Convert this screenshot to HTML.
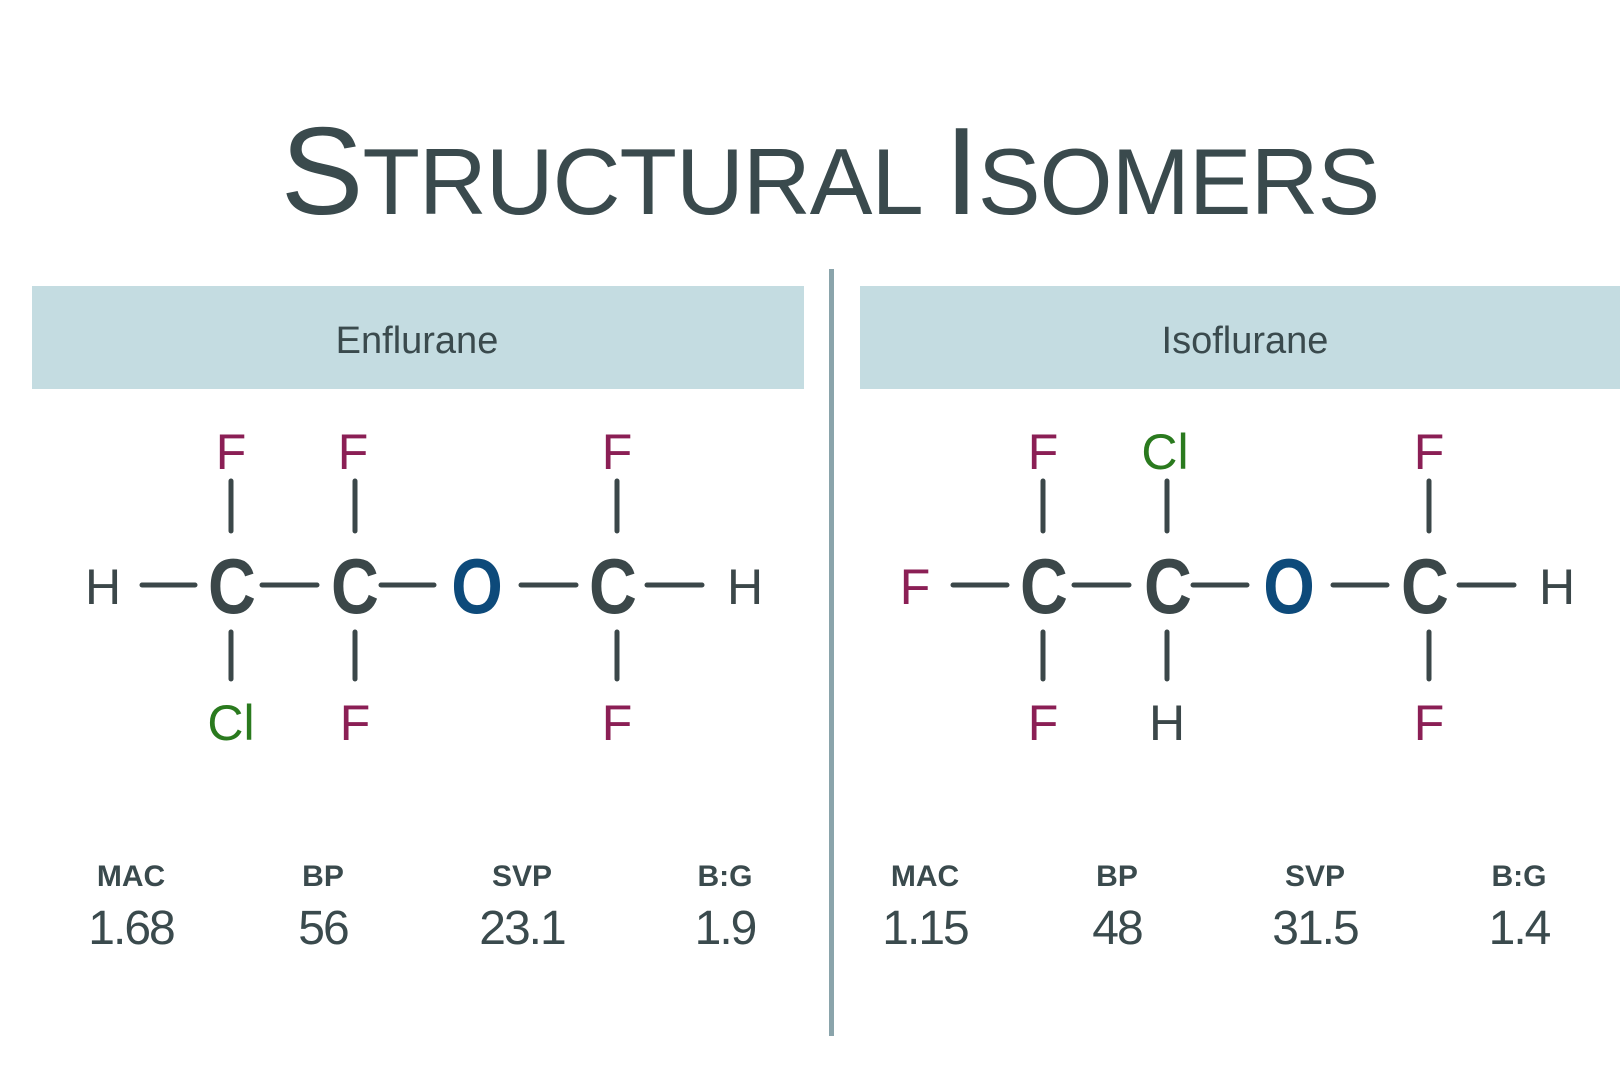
<!DOCTYPE html>
<html><head><meta charset="utf-8"><style>
html,body{margin:0;padding:0;background:#fff;width:1620px;height:1080px;overflow:hidden}
svg{display:block}
text{font-family:"Liberation Sans",sans-serif}
</style></head><body>
<svg width="1620" height="1080" viewBox="0 0 1620 1080">
<text x="830" y="214" text-anchor="middle" fill="#3a4a4d" font-size="94" letter-spacing="-1"><tspan font-size="124">S</tspan>TRUCTURAL <tspan font-size="124">I</tspan>SOMERS</text>
<rect x="32" y="286" width="772" height="103" fill="#c4dce1"/>
<rect x="860" y="286" width="760" height="103" fill="#c4dce1"/>
<rect x="829" y="269" width="5" height="767" fill="#8aa4ab"/>
<text x="417" y="353" text-anchor="middle" fill="#3a4a4d" font-size="38">Enflurane</text>
<text x="1245" y="353" text-anchor="middle" fill="#3a4a4d" font-size="38">Isoflurane</text>
<g stroke="#3b4749" stroke-width="5" stroke-linecap="round">
<line x1="142" y1="585" x2="195" y2="585"/><line x1="262" y1="585" x2="317" y2="585"/><line x1="381" y1="585" x2="434" y2="585"/><line x1="521" y1="585" x2="576" y2="585"/><line x1="647" y1="585" x2="702" y2="585"/>
<line x1="231" y1="481" x2="231" y2="531"/><line x1="355" y1="481" x2="355" y2="531"/><line x1="617" y1="481" x2="617" y2="531"/>
<line x1="231" y1="632" x2="231" y2="679"/><line x1="355" y1="632" x2="355" y2="679"/><line x1="617" y1="632" x2="617" y2="679"/>
<line x1="953" y1="585" x2="1007" y2="585"/><line x1="1074" y1="585" x2="1129" y2="585"/><line x1="1193" y1="585" x2="1247" y2="585"/><line x1="1333" y1="585" x2="1387" y2="585"/><line x1="1459" y1="585" x2="1514" y2="585"/>
<line x1="1043" y1="481" x2="1043" y2="531"/><line x1="1167" y1="481" x2="1167" y2="531"/><line x1="1429" y1="481" x2="1429" y2="531"/>
<line x1="1043" y1="632" x2="1043" y2="679"/><line x1="1167" y1="632" x2="1167" y2="679"/><line x1="1429" y1="632" x2="1429" y2="679"/>
</g>
<g font-size="78" font-weight="bold" text-anchor="middle">
<text transform="translate(232,613) scale(0.85,1)" fill="#3b4749">C</text><text transform="translate(355,613) scale(0.85,1)" fill="#3b4749">C</text><text transform="translate(477,613) scale(0.85,1)" fill="#0d4a7a">O</text><text transform="translate(613,613) scale(0.85,1)" fill="#3b4749">C</text>
<text transform="translate(1044,613) scale(0.85,1)" fill="#3b4749">C</text><text transform="translate(1168,613) scale(0.85,1)" fill="#3b4749">C</text><text transform="translate(1289,613) scale(0.85,1)" fill="#0d4a7a">O</text><text transform="translate(1425,613) scale(0.85,1)" fill="#3b4749">C</text>
</g>
<g font-size="50" text-anchor="middle">
<text x="103" y="604" fill="#3b4749">H</text><text x="745" y="604" fill="#3b4749">H</text>
<text x="231" y="469" fill="#8b1f55">F</text><text x="353" y="469" fill="#8b1f55">F</text><text x="617" y="469" fill="#8b1f55">F</text>
<text x="231" y="740" fill="#2a7a1e">Cl</text><text x="355" y="740" fill="#8b1f55">F</text><text x="617" y="740" fill="#8b1f55">F</text>
<text x="915" y="604" fill="#8b1f55">F</text><text x="1557" y="604" fill="#3b4749">H</text>
<text x="1043" y="469" fill="#8b1f55">F</text><text x="1165" y="469" fill="#2a7a1e">Cl</text><text x="1429" y="469" fill="#8b1f55">F</text>
<text x="1043" y="740" fill="#8b1f55">F</text><text x="1167" y="740" fill="#3b4749">H</text><text x="1429" y="740" fill="#8b1f55">F</text>
</g>
<g font-size="30" font-weight="bold" text-anchor="middle" fill="#3a4a4d">
<text x="131" y="886">MAC</text><text x="323" y="886">BP</text><text x="522" y="886">SVP</text><text x="725" y="886">B:G</text>
<text x="925" y="886">MAC</text><text x="1117" y="886">BP</text><text x="1315" y="886">SVP</text><text x="1519" y="886">B:G</text>
</g>
<g font-size="48" text-anchor="middle" fill="#3a4a4d" letter-spacing="-2">
<text x="131" y="944">1.68</text><text x="323" y="944">56</text><text x="522" y="944">23.1</text><text x="725" y="944">1.9</text>
<text x="925" y="944">1.15</text><text x="1117" y="944">48</text><text x="1315" y="944">31.5</text><text x="1519" y="944">1.4</text>
</g>
</svg>
</body></html>
